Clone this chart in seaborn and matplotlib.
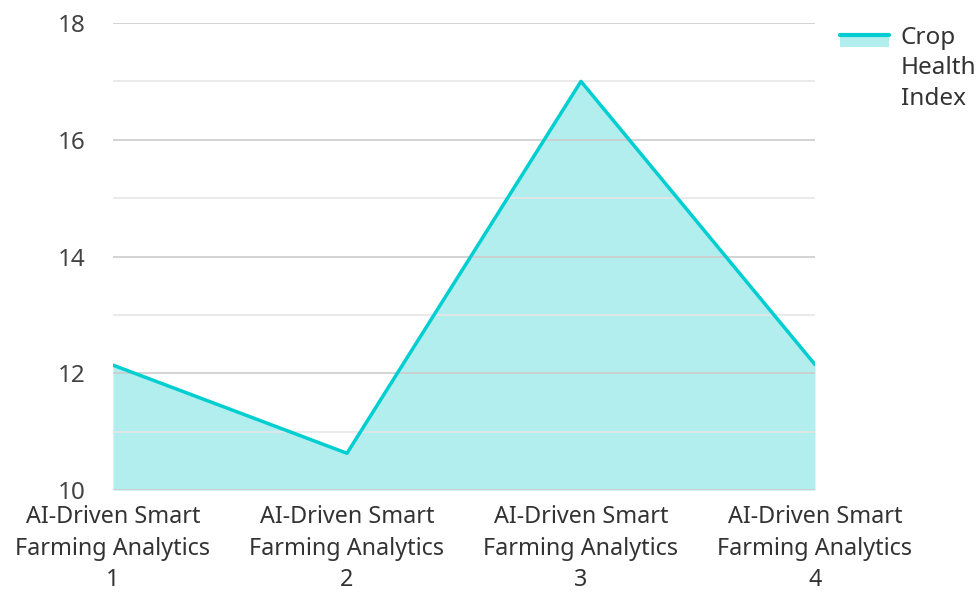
import matplotlib
matplotlib.use("Agg")
import matplotlib.pyplot as plt
import seaborn as sns
import pandas as pd
import numpy as np
from matplotlib.patches import Rectangle
from matplotlib.lines import Line2D
from matplotlib.legend_handler import HandlerBase
from matplotlib.ticker import MultipleLocator

categories = ["AI-Driven Smart\nFarming Analytics\n1", "AI-Driven Smart\nFarming Analytics\n2",
              "AI-Driven Smart\nFarming Analytics\n3", "AI-Driven Smart\nFarming Analytics\n4"]
values = [12.14, 10.63, 17.0, 12.15]
series_name = "Crop\nHealth\nIndex"

sns.set_theme(style="white")
plt.rcParams['font.family'] = ['Noto Sans', 'DejaVu Sans']

line_color = "#00CED1"
fill_color = "#B2EEEE"
FS = 17.5
XFS = 16.8

df = pd.DataFrame({"x": np.arange(len(categories)), "y": values})

fig = plt.figure(figsize=(9.78, 5.94), dpi=100)
ax = fig.add_axes([0.1155, 0.175, 0.7178, 0.7863])

ax.fill_between(df["x"], 10, df["y"], color=fill_color, linewidth=0, zorder=1)
sns.lineplot(data=df, x="x", y="y", ax=ax, color=line_color, linewidth=2.5, zorder=3)

ax.set_xlim(0, len(categories) - 1)
ax.set_ylim(10, 18)
ax.yaxis.set_major_locator(MultipleLocator(2))
ax.yaxis.set_minor_locator(MultipleLocator(1))
ax.grid(which="major", axis="y", color="#cccccc", linewidth=1.2, zorder=2)
ax.grid(which="minor", axis="y", color="#e6e6e6", linewidth=1.2, zorder=2)
ax.grid(False, axis="x")
ax.set_axisbelow(False)
for s in ax.spines.values():
    s.set_visible(False)

ax.set_xticks(df["x"])
ax.set_xticklabels(categories, fontsize=XFS, color="#333333", linespacing=1.42)
ax.tick_params(axis="y", labelsize=FS, labelcolor="#444444", length=0, pad=20)
ax.tick_params(axis="x", length=0, pad=11)
ax.set_xlabel("")
ax.set_ylabel("")


class AreaHandler(HandlerBase):
    def create_artists(self, legend, orig_handle, xdescent, ydescent, width, height, fontsize, trans):
        y0 = -ydescent
        top = y0 + height * 0.95 + 18.7
        r = Rectangle((-xdescent, top - 8.6), width, 8.6,
                      facecolor=fill_color, edgecolor="none", transform=trans)
        l = Line2D([-xdescent, -xdescent + width], [top, top],
                   color=line_color, linewidth=3, transform=trans)
        return [r, l]


handle = Rectangle((0, 0), 1, 1)
leg = fig.legend([handle], [series_name], handler_map={Rectangle: AreaHandler()},
                 loc="upper left", bbox_to_anchor=(0.859, 0.957), frameon=False,
                 fontsize=FS, handlelength=2.0, handletextpad=0.5, borderaxespad=0,
                 borderpad=0)
for t in leg.get_texts():
    t.set_color("#333333")
    t.set_linespacing(1.37)

fig.savefig("out.png", dpi=100)
